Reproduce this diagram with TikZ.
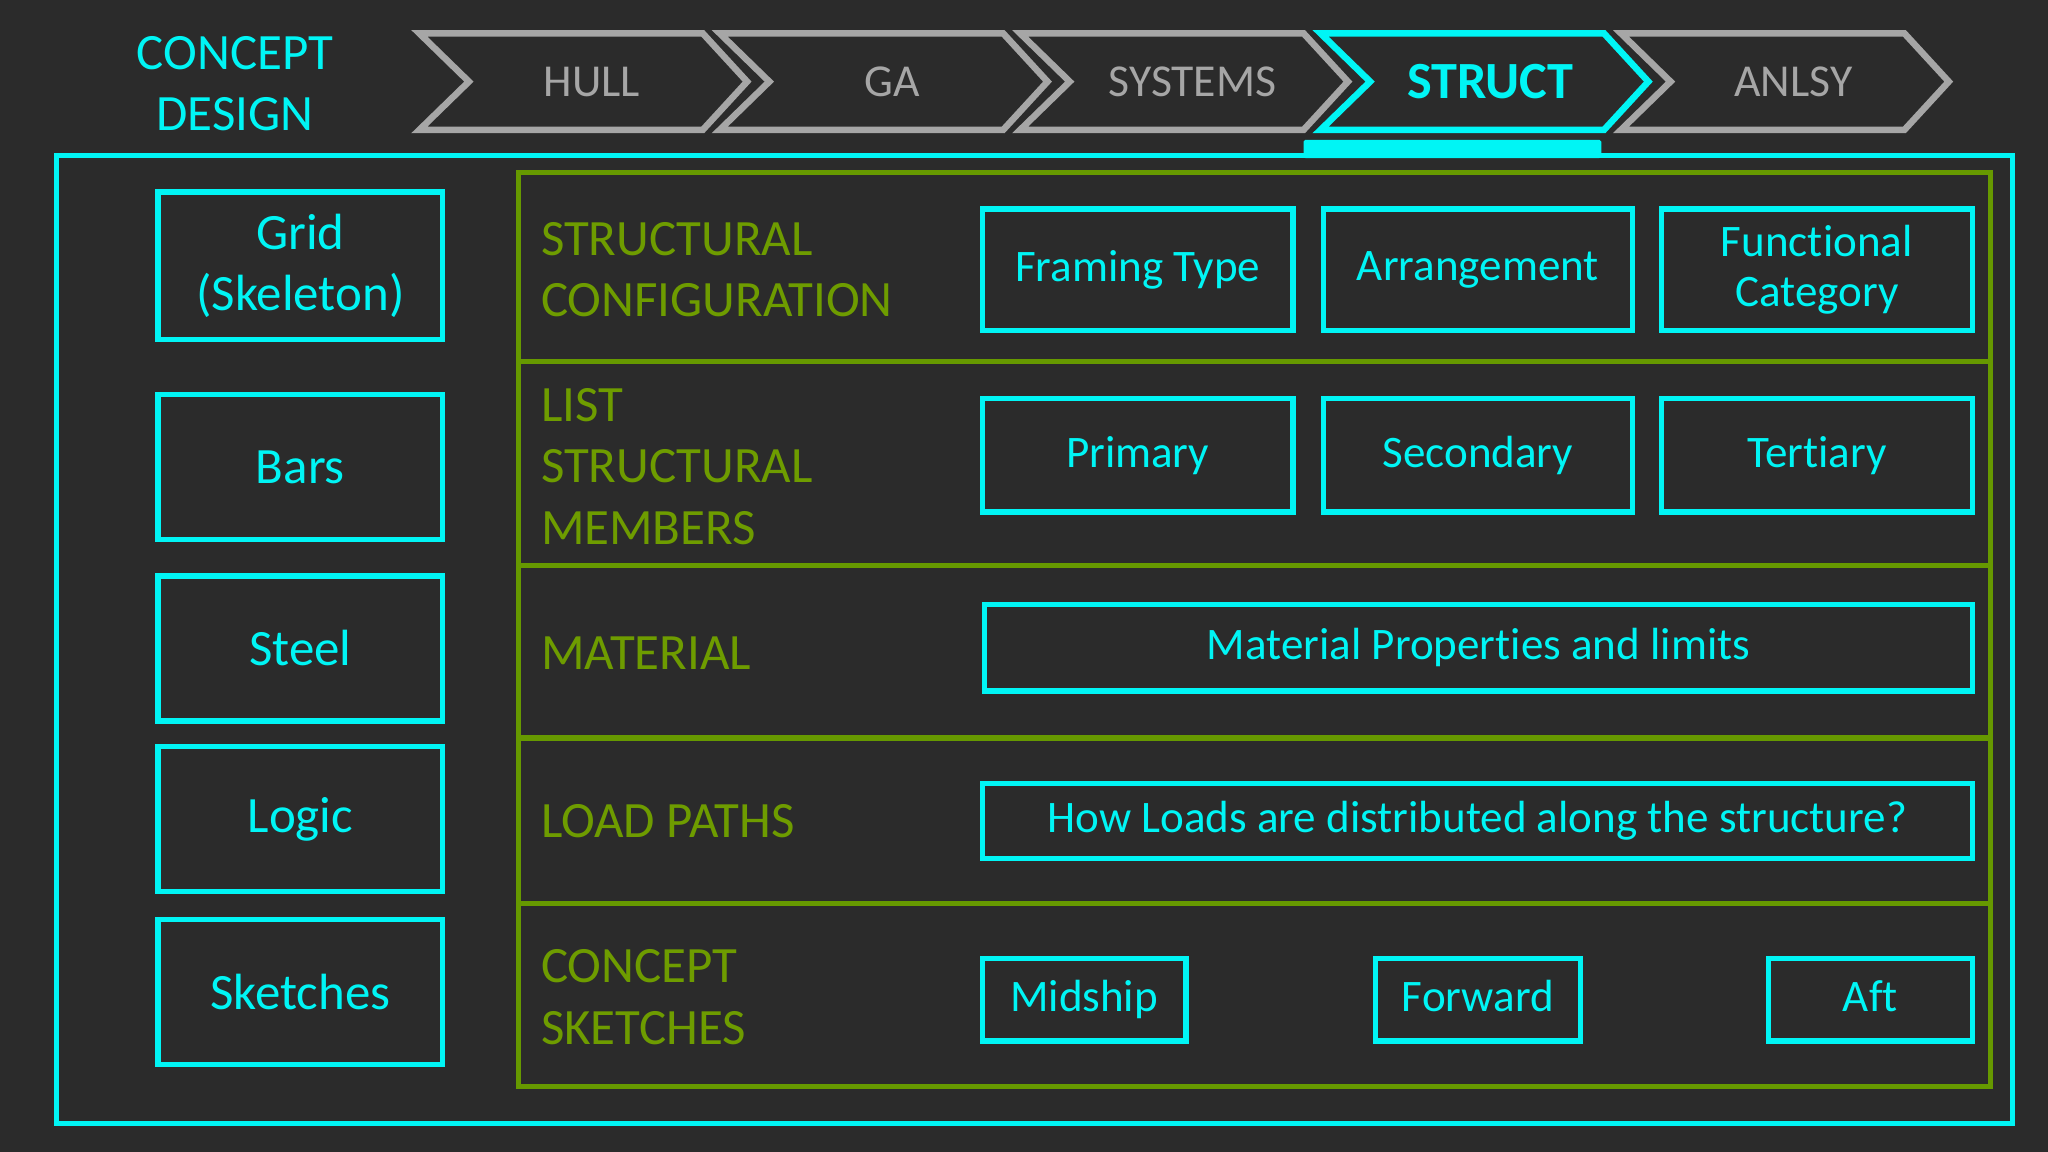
\documentclass[tikz,border=0pt]{standalone}
\usepackage{fontspec}
\setmainfont{Carlito}[Ligatures=NoCommon]
\definecolor{bg}{HTML}{2B2B2B}
\definecolor{cy}{HTML}{00F5F5}
\definecolor{gr}{HTML}{669900}
\definecolor{grt}{HTML}{6E9C00}
\definecolor{gy}{HTML}{A6A6A6}
\begin{document}
\begin{tikzpicture}[x=1pt,y=-1pt,
  cbox/.style={draw=cy,line width=4pt,inner sep=0pt,text=cy,align=center,font=\fontsize{34.5}{38}\selectfont},
  lbox/.style={draw=cy,line width=4pt,inner sep=0pt,text=cy,align=center,font=\fontsize{39}{47}\selectfont,minimum width=218pt,minimum height=111pt},
  glabel/.style={anchor=west,text=grt,align=left,inner sep=0pt,font=\fontsize{39}{47}\selectfont},
  chev/.style={draw=gy,line width=5pt,line join=miter},
  chevtxt/.style={text=gy,inner sep=0pt,font=\fontsize{35}{42}\selectfont},
  panel/.style={draw=gr,line width=4pt}
]
\fill[bg] (0,0) rectangle (1568,882);
\useasboundingbox (0,0) rectangle (1568,882);

% title
\node[text=cy,align=center,inner sep=0pt,font=\fontsize{39}{47}\selectfont] (title) at (180,64) {CONCEPT\\DESIGN};

% chevrons
\foreach \x/\t/\n in {318/HULL/hull,548/GA/ga,778/SYSTEMS/sys,1238/ANLSY/anl}{
  \draw[chev] (\x+3,25.5) -- (\x+220,25.5) -- (\x+254,62.5) -- (\x+220,99.5) -- (\x+3,99.5) -- (\x+41,62.5) -- cycle;
  \node[chevtxt] (\n) at (\x+135,62.5) {\t};
}
\draw[chev,draw=cy] (1011,25.5) -- (1228,25.5) -- (1262,62.5) -- (1228,99.5) -- (1011,99.5) -- (1049,62.5) -- cycle;
\node[chevtxt,text=cy,font=\fontsize{40}{44}\bfseries\selectfont] (struct) at (1141,62.5) {STRUCT};
\fill[cy,rounded corners=1.5pt] (998,107) rectangle (1226,121);

% outer frame
\draw[cy,line width=4pt] (43,119) rectangle (1541,860);

% left boxes
\node[lbox,minimum height=113pt] (grid) at (230,203.5) {Grid\\(Skeleton)};
\node[lbox] (bars) at (230,357.5) {Bars};
\node[lbox] (steel) at (230,496.5) {Steel};
\node[lbox] (logic) at (230,627) {Logic};
\node[lbox] (sketches) at (230,759.5) {Sketches};

% green panel
\draw[panel] (397,132) rectangle (1524,832);
\foreach \y in {277,433,565,692}{ \draw[panel] (397,\y) -- (1524,\y); }

% green labels
\node[glabel] (l1) at (414,206.5) {STRUCTURAL\\CONFIGURATION};
\node[glabel] (l2) at (414,357) {LIST\\STRUCTURAL\\MEMBERS};
\node[glabel] (l3) at (414,500) {MATERIAL};
\node[glabel] (l4) at (414,629) {LOAD PATHS};
\node[glabel] (l5) at (414,763.5) {CONCEPT\\SKETCHES};

% row 1
\node[cbox,minimum width=238pt,minimum height=93pt] (framing) at (871,206.5) {Framing Type};
\node[cbox,minimum width=237pt,minimum height=93pt] (arr) at (1131.5,206.5) {Arrangement};
\node[cbox,minimum width=238pt,minimum height=93pt] (func) at (1391,206.5) {Functional\\Category};
% row 2
\node[cbox,minimum width=238pt,minimum height=87pt] (prim) at (871,348.5) {Primary};
\node[cbox,minimum width=237pt,minimum height=87pt] (sec) at (1131.5,348.5) {Secondary};
\node[cbox,minimum width=238pt,minimum height=87pt] (ter) at (1391,348.5) {Tertiary};
% row 3
\node[cbox,minimum width=756pt,minimum height=66pt] (mat) at (1132,496) {Material Properties and limits};
% row 4
\node[cbox,minimum width=758pt,minimum height=57pt] (load) at (1131,628.5) {How Loads are distributed along the structure?};
% row 5
\node[cbox,minimum width=156pt,minimum height=63pt] (mid) at (830,765.5) {Midship};
\node[cbox,minimum width=157pt,minimum height=63pt] (fwd) at (1131.5,765.5) {Forward\vphantom{p}};
\node[cbox,minimum width=156pt,minimum height=63pt] (aft) at (1432,765.5) {Aft\vphantom{p}};
\end{tikzpicture}
\end{document}
